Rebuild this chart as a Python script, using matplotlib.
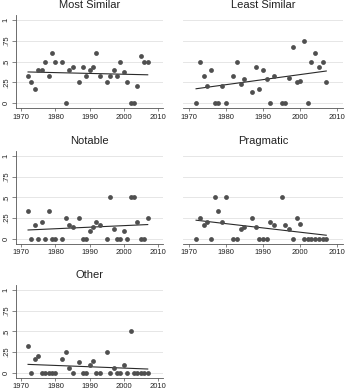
import numpy as np
import matplotlib
matplotlib.use('Agg')
import matplotlib.pyplot as plt

plt.rcParams['font.family'] = ['Liberation Sans', 'DejaVu Sans']

# years with observations (1981, 1986, 1994 missing)
years = [1972, 1973, 1974, 1975, 1976, 1977, 1978, 1979, 1980,
         1982, 1983, 1984, 1985, 1987, 1988, 1989, 1990, 1991, 1992, 1993,
         1995, 1996, 1997, 1998, 1999, 2000, 2001, 2002, 2003, 2004, 2005, 2006, 2007]

most_similar = [0.33, 0.25, 0.17, 0.40, 0.40, 0.50, 0.33, 0.60, 0.50,
                0.50, 0.00, 0.40, 0.43, 0.25, 0.43, 0.33, 0.40, 0.43, 0.60, 0.33,
                0.25, 0.33, 0.40, 0.33, 0.50, 0.375, 0.25, 0.00, 0.00, 0.20, 0.57, 0.50, 0.50]

least_similar = [0.00, 0.50, 0.33, 0.20, 0.40, 0.00, 0.00, 0.20, 0.00,
                 0.33, 0.50, 0.23, 0.29, 0.13, 0.43, 0.17, 0.40, 0.29, 0.00, 0.33,
                 0.00, 0.00, 0.30, 0.67, 0.25, 0.27, 0.75, 0.00, 0.50, 0.60, 0.43, 0.50, 0.25]

notable = [0.33, 0.00, 0.17, 0.00, 0.20, 0.00, 0.33, 0.00, 0.00,
           0.00, 0.25, 0.17, 0.14, 0.25, 0.00, 0.00, 0.10, 0.14, 0.20, 0.17,
           0.00, 0.50, 0.12, 0.00, 0.00, 0.10, 0.00, 0.50, 0.50, 0.20, 0.00, 0.00, 0.25]

pragmatic = [0.00, 0.25, 0.17, 0.20, 0.00, 0.50, 0.33, 0.20, 0.50,
             0.00, 0.00, 0.12, 0.14, 0.25, 0.14, 0.00, 0.00, 0.00, 0.20, 0.17,
             0.50, 0.17, 0.12, 0.00, 0.25, 0.18, 0.00, 0.00, 0.00, 0.00, 0.00, 0.00, 0.00]

other = [0.33, 0.00, 0.17, 0.20, 0.00, 0.00, 0.00, 0.00, 0.00,
         0.17, 0.25, 0.06, 0.00, 0.13, 0.00, 0.00, 0.10, 0.14, 0.00, 0.00,
         0.25, 0.00, 0.06, 0.00, 0.00, 0.10, 0.00, 0.50, 0.00, 0.00, 0.00, 0.00, 0.00]

titles = ['Most Similar', 'Least Similar', 'Notable', 'Pragmatic', 'Other']
series = [most_similar, least_similar, notable, pragmatic, other]

yticks = [0, 0.25, 0.5, 0.75, 1]
yticklabels = ['0', '.25', '.5', '.75', '1']
xticks = [1970, 1980, 1990, 2000, 2010]

fig = plt.figure(figsize=(3.5, 3.92), dpi=100)

# axes boxes in figure fractions: left column has y labels, right column doesn't
left_box = (0.046, 0.42)
right_box = (0.523, 0.457)
row_bottoms = [0.7245, 0.378, 0.036]
ax_h = 0.237

for i, (title, vals) in enumerate(zip(titles, series)):
    row, col = divmod(i, 2)
    x0, w = left_box if col == 0 else right_box
    ax = fig.add_axes([x0, row_bottoms[row], w, ax_h])

    x = np.array(years)
    y = np.array(vals)
    ax.scatter(x, y, s=12, color='#4f4f4f', linewidths=0, zorder=3)
    b, a = np.polyfit(x, y, 1)
    xl = np.array([x.min(), x.max()])
    ax.plot(xl, a + b * xl, color='#2a2a2a', lw=0.8, zorder=2)

    ax.set_xlim(1968.5, 2011.5)
    ax.set_ylim(-0.06, 1.06)
    ax.set_xticks(xticks)
    ax.set_yticks(yticks)
    ax.grid(axis='y', color='#e6e6e6', lw=0.7, zorder=0)
    ax.set_axisbelow(True)
    ax.set_title(title, fontsize=8, pad=5, color='#222222')

    for s in ['top', 'right']:
        ax.spines[s].set_visible(False)
    ax.spines['bottom'].set_color('#555555')
    ax.spines['bottom'].set_linewidth(0.6)
    ax.tick_params(axis='x', labelsize=5.5, length=2.5, width=0.5, pad=1.5,
                   colors='#555555', labelcolor='#222222')

    if col == 0:
        ax.spines['left'].set_color('#555555')
        ax.spines['left'].set_linewidth(0.6)
        ax.set_yticklabels(yticklabels, rotation=90, va='center')
        ax.tick_params(axis='y', labelsize=5.5, length=3, width=0.5, pad=1.5,
                       colors='#555555', labelcolor='#222222')
    else:
        ax.spines['left'].set_visible(False)
        ax.tick_params(axis='y', left=False, labelleft=False)

fig.savefig('out.png', dpi=100, facecolor='white')
